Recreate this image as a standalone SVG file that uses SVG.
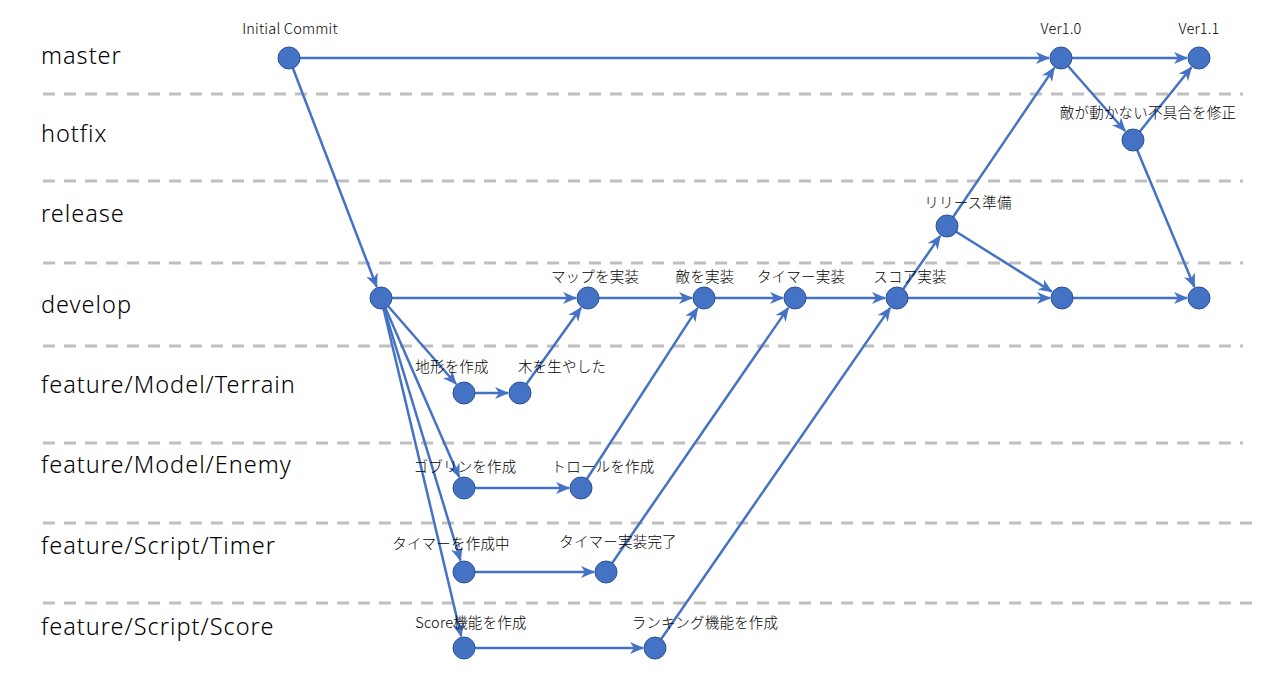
<svg xmlns="http://www.w3.org/2000/svg" width="1272" height="700" viewBox="0 0 1272 700">
<style>
.lane{fill:none;stroke:#BFBFBF;stroke-width:3;stroke-dasharray:12 9}
.lt{font-family:"Noto Sans","Noto Sans CJK JP",sans-serif;font-size:23.5px;font-weight:300;letter-spacing:1px;fill:#000}
.nt{font-family:"Noto Sans CJK JP","Noto Sans",sans-serif;font-size:14.5px;font-weight:300;letter-spacing:0.2px;fill:#000;text-anchor:middle}
.c{fill:#4472C4;stroke:#2F528F;stroke-width:1}
.e{fill:none;stroke:#4472C4;stroke-width:2.5;marker-end:url(#ah)}
</style>
<defs>
<marker id="ah" markerUnits="userSpaceOnUse" markerWidth="14" markerHeight="12" refX="13" refY="6" orient="auto">
<path d="M0,0 L14,6 L0,12 L4,6 z" fill="#4472C4"/>
</marker>
</defs>
<rect width="1272" height="700" fill="#fff"/>
<g id="lanes">
<line class="lane" x1="43" y1="94" x2="1243" y2="94"/>
<line class="lane" x1="43" y1="181" x2="1243" y2="181"/>
<line class="lane" x1="43" y1="263" x2="1243" y2="263"/>
<line class="lane" x1="43" y1="346" x2="1243" y2="346"/>
<line class="lane" x1="43" y1="443" x2="1243" y2="443"/>
<line class="lane" x1="43" y1="523" x2="1253" y2="523"/>
<line class="lane" x1="43" y1="603" x2="1253" y2="603"/>
<text class="lt" x="41" y="64">master</text>
<text class="lt" x="41" y="142">hotfix</text>
<text class="lt" x="41" y="222">release</text>
<text class="lt" x="41" y="313">develop</text>
<text class="lt" x="41" y="393">feature/Model/Terrain</text>
<text class="lt" x="41" y="473">feature/Model/Enemy</text>
<text class="lt" x="41" y="554">feature/Script/Timer</text>
<text class="lt" x="41" y="635">feature/Script/Score</text>
</g>
<g id="connectors">
<line class="e" x1="289" y1="58" x2="1049" y2="58"/>
<line class="e" x1="289" y1="58" x2="376.7" y2="286.8"/>
<line class="e" x1="381" y1="298" x2="576" y2="298"/>
<line class="e" x1="381" y1="298" x2="456.1" y2="384"/>
<line class="e" x1="381" y1="298" x2="459.2" y2="477"/>
<line class="e" x1="381" y1="298" x2="460.5" y2="560.5"/>
<line class="e" x1="381" y1="298" x2="461.2" y2="636.3"/>
<line class="e" x1="464" y1="393" x2="508" y2="393"/>
<line class="e" x1="520" y1="393" x2="581" y2="307.8"/>
<line class="e" x1="588" y1="298" x2="692" y2="298"/>
<line class="e" x1="704" y1="298" x2="783" y2="298"/>
<line class="e" x1="795" y1="298" x2="885" y2="298"/>
<line class="e" x1="464" y1="488" x2="569" y2="488"/>
<line class="e" x1="581" y1="488" x2="697.5" y2="308.1"/>
<line class="e" x1="464" y1="572" x2="594" y2="572"/>
<line class="e" x1="606" y1="572" x2="788.2" y2="307.9"/>
<line class="e" x1="464" y1="648" x2="643" y2="648"/>
<line class="e" x1="655" y1="648" x2="890.2" y2="307.9"/>
<line class="e" x1="897" y1="298" x2="940.2" y2="235.9"/>
<line class="e" x1="897" y1="298" x2="1050" y2="298"/>
<line class="e" x1="947" y1="226" x2="1054.3" y2="67.9"/>
<line class="e" x1="947" y1="226" x2="1051.8" y2="291.6"/>
<line class="e" x1="1061" y1="58" x2="1187" y2="58"/>
<line class="e" x1="1061" y1="58" x2="1125.1" y2="131"/>
<line class="e" x1="1133" y1="140" x2="1191.5" y2="67.3"/>
<line class="e" x1="1133" y1="140" x2="1194.4" y2="286.9"/>
<line class="e" x1="1062" y1="298" x2="1187" y2="298"/>
</g>
<g id="n-initial"><circle class="c" cx="289" cy="58" r="11"/><text class="nt" x="290" y="34">Initial Commit</text></g>
<g id="n-ver10"><circle class="c" cx="1061" cy="58" r="11"/><text class="nt" x="1061" y="34">Ver1.0</text></g>
<g id="n-ver11"><circle class="c" cx="1199" cy="58" r="11"/><text class="nt" x="1199" y="34">Ver1.1</text></g>
<g id="n-hotfix"><circle class="c" cx="1133" cy="140" r="11"/><text class="nt" x="1148" y="118">敵が動かない不具合を修正</text></g>
<g id="n-release"><circle class="c" cx="947" cy="226" r="11"/><text class="nt" x="968" y="208">リリース準備</text></g>
<g id="n-dev0"><circle class="c" cx="381" cy="298" r="11"/></g>
<g id="n-map"><circle class="c" cx="588" cy="298" r="11"/><text class="nt" x="595" y="282">マップを実装</text></g>
<g id="n-enemy"><circle class="c" cx="704" cy="298" r="11"/><text class="nt" x="705" y="282">敵を実装</text></g>
<g id="n-timer"><circle class="c" cx="795" cy="298" r="11"/><text class="nt" x="801" y="282">タイマー実装</text></g>
<g id="n-score"><circle class="c" cx="897" cy="298" r="11"/><text class="nt" x="910" y="282">スコア実装</text></g>
<g id="n-dev-merge"><circle class="c" cx="1062" cy="298" r="11"/></g>
<g id="n-dev-last"><circle class="c" cx="1199" cy="298" r="11"/></g>
<g id="n-terrain0"><circle class="c" cx="464" cy="393" r="11"/><text class="nt" x="452" y="372">地形を作成</text></g>
<g id="n-terrain1"><circle class="c" cx="520" cy="393" r="11"/><text class="nt" x="562" y="372">木を生やした</text></g>
<g id="n-enemy0"><circle class="c" cx="464" cy="488" r="11"/><text class="nt" x="465" y="472">ゴブリンを作成</text></g>
<g id="n-enemy1"><circle class="c" cx="581" cy="488" r="11"/><text class="nt" x="603" y="472">トロールを作成</text></g>
<g id="n-timer0"><circle class="c" cx="464" cy="572" r="11"/><text class="nt" x="451" y="549">タイマーを作成中</text></g>
<g id="n-timer1"><circle class="c" cx="606" cy="572" r="11"/><text class="nt" x="618" y="547">タイマー実装完了</text></g>
<g id="n-score0"><circle class="c" cx="464" cy="648" r="11"/><text class="nt" x="471" y="628">Score機能を作成</text></g>
<g id="n-score1"><circle class="c" cx="655" cy="648" r="11"/><text class="nt" x="705" y="628">ランキング機能を作成</text></g>
</svg>
